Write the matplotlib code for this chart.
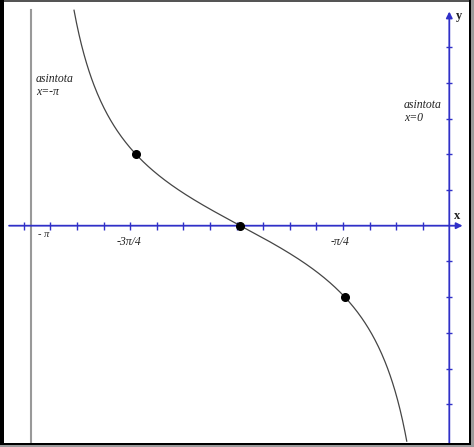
import numpy as np
import matplotlib
matplotlib.use('Agg')
import matplotlib.pyplot as plt
from matplotlib.patches import Rectangle

# cot(x) on (-pi, 0)
x_min, x_max = -np.pi + 0.32, -0.32
marked_x = [-3 * np.pi / 4, -np.pi / 2, -np.pi / 4]
x_ticks = [-3.2, -3.0, -2.8, -2.6, -2.4, -2.2, -2.0, -1.8, -1.6, -1.4,
           -1.2, -1.0, -0.8, -0.6, -0.4, -0.2]
y_ticks = [-2.5, -2.0, -1.5, -1.0, -0.5, 0.5, 1.0, 1.5, 2.0, 2.5]
x_tick_labels = ['- π', '-3π/4', '-π/4']
x_tick_label_pos = [-3.05, -2.41, -0.82]

W, H = 474, 447
axis_blue = '#3030c8'
text_col = '#222222'

fig = plt.figure(figsize=(W / 100, H / 100), dpi=100)
ax = fig.add_axes([0, 0, 1, 1])
ax.set_xlim(-449.3 / 133, (W - 449.3) / 133)
ax.set_ylim(-(H - 225.7) / 71.4, 225.7 / 71.4)
ax.axis('off')

serif = 'Liberation Serif'

# asymptote x = -pi
ax.plot([-np.pi, -np.pi], [-3.07, 3.02], color='#999999', lw=1.5, zorder=1)

# axes
ax.annotate('', xy=(0.10, 0), xytext=(-3.31, 0),
            arrowprops=dict(arrowstyle='-|>', color=axis_blue, lw=1.3,
                            mutation_scale=9, shrinkA=0, shrinkB=0), zorder=2)
ax.annotate('', xy=(0, 3.0), xytext=(0, -3.07),
            arrowprops=dict(arrowstyle='-|>', color=axis_blue, lw=1.3,
                            mutation_scale=9, shrinkA=0, shrinkB=0), zorder=2)
ax.plot(x_ticks, np.zeros(len(x_ticks)), ls='none', marker='|',
        markersize=6, color=axis_blue, mew=1.0, zorder=2)
ax.plot(np.zeros(len(y_ticks)), y_ticks, ls='none', marker='_',
        markersize=5, color=axis_blue, mew=1.0, zorder=2)

# curve
xs = np.linspace(x_min, x_max, 400)
ax.plot(xs, 1 / np.tan(xs), color='#454545', lw=0.9, zorder=3)
ax.plot(marked_x, 1 / np.tan(marked_x), 'o', color='black', markersize=5.5, zorder=4)

# labels
ax.text(x_tick_label_pos[0], -0.12, x_tick_labels[0], fontsize=7.5, style='italic',
        family=serif, ha='center', va='center', color=text_col)
for lab, xp in zip(x_tick_labels[1:], x_tick_label_pos[1:]):
    ax.text(xp, -0.23, lab, fontsize=8.5, style='italic', family=serif,
            ha='center', va='center', color=text_col)
ax.text(0.06, 0.14, 'x', fontsize=9, weight='bold', family=serif,
        ha='center', va='center', color=text_col)
ax.text(0.07, 2.94, 'y', fontsize=9, weight='bold', family=serif,
        ha='center', va='center', color=text_col)
ax.text(-3.11, 1.96, 'asintota\nx=-π', fontsize=8.5, style='italic', family=serif,
        ha='left', va='center', linespacing=1.15, color=text_col)
ax.text(-0.34, 1.60, 'asintota\nx=0', fontsize=8.5, style='italic', family=serif,
        ha='left', va='center', linespacing=1.15, color=text_col)

# frame with shadow
def px_rect(x0, y0, w, h, color):
    fig.patches.append(Rectangle((x0 / W, 1 - (y0 + h) / H), w / W, h / H,
                                 transform=fig.transFigure, color=color,
                                 lw=0, zorder=10))

px_rect(0, 0, W, 2, '#555555')
px_rect(0, 0, 4, 445, '#000000')
px_rect(469, 0, 2, 445, '#000000')
px_rect(471, 0, 3, H, '#9a9a9a')
px_rect(0, 443, 471, 2, '#000000')
px_rect(0, 445, W, 2, '#9a9a9a')

plt.savefig('out.png', dpi=100)
plt.close()
